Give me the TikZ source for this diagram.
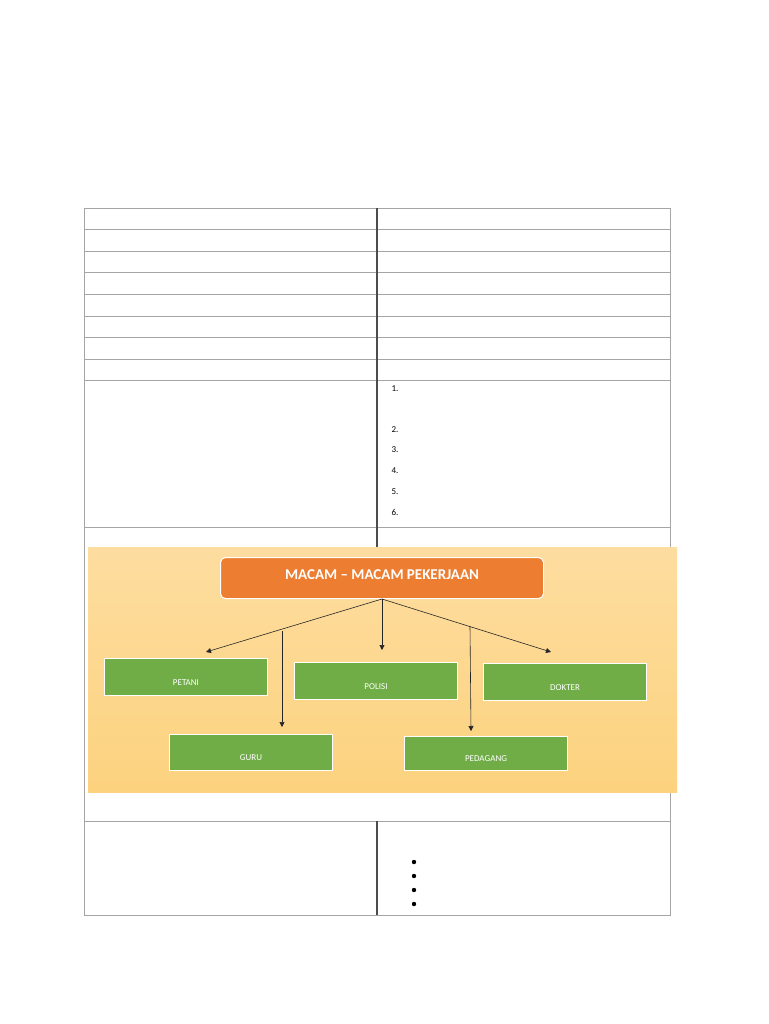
\documentclass[tikz,border=0pt]{standalone}
\usepackage{fontspec}
\setmainfont{Carlito}
\usetikzlibrary{arrows.meta}
\definecolor{tl}{HTML}{7F7F7F}
\definecolor{og}{HTML}{ED7D31}
\definecolor{gr}{HTML}{70AD47}
\begin{document}
\begin{tikzpicture}[x=1pt,y=-1pt,
  grid/.style={draw=tl!70,line width=0.8pt},
  jobbox/.style={draw=white,line width=1pt,fill=gr,minimum width=163pt,minimum height=37pt,anchor=north west,text=white,font=\fontsize{9}{10}\selectfont,text depth=0pt},
  arr/.style={draw=black!85,line width=0.6pt,-{Triangle[length=5pt,width=5pt]}},
  num/.style={anchor=west,font=\fontsize{9}{10}\selectfont}]
\useasboundingbox (0,0) rectangle (768,1024);
\fill[white] (0,0) rectangle (768,1024);
% table
\draw[grid] (84,208) rectangle (670,915);
\foreach \y in {229,251,272,294,316,337,359,380,527,821} \draw[grid] (84,\y) -- (670,\y);
\draw[black!70,line width=1.2pt] (377,208) -- (377,547);
\draw[black!70,line width=1.2pt] (377,821) -- (377,915);
% numbers
\foreach \n/\y in {1/389,2/430,3/450,4/471,5/492,6/512} \node[num] (n\n) at (388,\y) {\n.};
\foreach \y in {862,876,890,904} \fill (414,\y) circle (2.2pt);
% diagram background
\fill[top color={rgb,255:red,253;green,221;blue,160}, bottom color={rgb,255:red,252;green,210;blue,126}] (88,547) rectangle (677,792);
\node[draw=white,line width=1pt,fill=og,rounded corners=5pt,minimum width=323pt,minimum height=41pt,anchor=north west,text=white,font=\fontsize{15}{16}\selectfont\bfseries,text depth=0pt,inner sep=0pt] (title) at (220,557) {\raisebox{6pt}{MACAM – MACAM PEKERJAAN}};
\node[jobbox] (petani) at (104,658) {\raisebox{-8pt}{PETANI}};
\node[jobbox] (polisi) at (294,662) {\raisebox{-8pt}{POLISI}};
\node[jobbox] (dokter) at (483,663) {\raisebox{-8pt}{DOKTER}};
\node[jobbox,minimum height=36pt] (guru) at (169,734) {\raisebox{-8pt}{GURU}};
\node[jobbox,minimum height=34pt] (pedagang) at (404,736) {\raisebox{-8pt}{PEDAGANG}};
\coordinate (src) at (title.south);
\coordinate (pt) at (206,652);
\coordinate (dt) at (551,652);
\coordinate (pl) at (382,650);
\coordinate (g1) at (282,631);
\coordinate (g2) at (282,727);
\coordinate (d1) at (470,626);
\coordinate (d2) at (471,731);
\draw[arr] (src) -- (pt);
\draw[arr] (src) -- (pl);
\draw[arr] (src) -- (dt);
\draw[arr] (g1) -- (g2);
\draw[arr] (d1) -- (d2);
\end{tikzpicture}
\end{document}
